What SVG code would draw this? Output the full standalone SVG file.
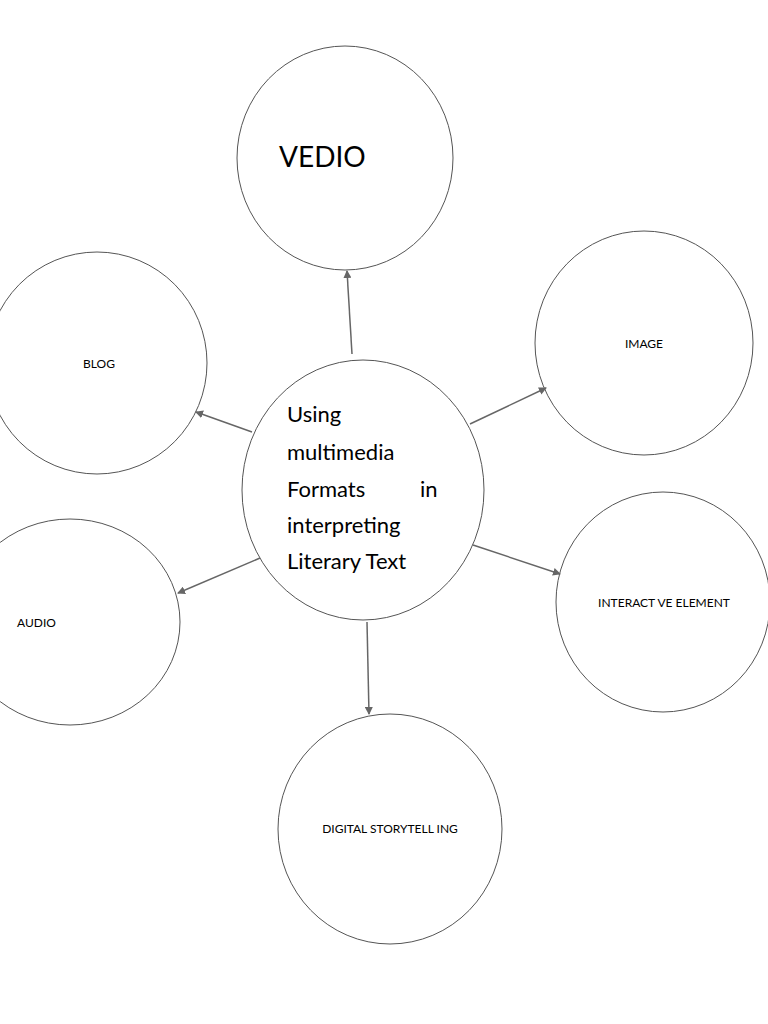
<svg xmlns="http://www.w3.org/2000/svg" width="768" height="1024" viewBox="0 0 768 1024">
<style>
.n{fill:#fff;stroke:#555;stroke-width:1}
.t{font-family:Lato,"Liberation Sans",sans-serif;fill:#000}
.s{font-size:12px}
.c{stroke:#666;stroke-width:1.5;fill:none;marker-end:url(#a)}
</style>
<defs><marker id="a" markerWidth="8" markerHeight="8" refX="7" refY="4" orient="auto" markerUnits="userSpaceOnUse"><path d="M0,0 L8,4 L0,8 Z" fill="#666"/></marker></defs>
<rect width="768" height="1024" fill="#fff"/>
<g id="vedio"><ellipse class="n" cx="345" cy="158" rx="108" ry="112"/><text class="t" x="279" y="167" font-size="28">VEDIO</text></g>
<g id="blog"><ellipse class="n" cx="97" cy="363" rx="110" ry="111"/><text class="t s" x="99" y="368" text-anchor="middle">BLOG</text></g>
<g id="image"><ellipse class="n" cx="644" cy="343" rx="109" ry="112"/><text class="t s" x="644" y="348" text-anchor="middle">IMAGE</text></g>
<g id="audio"><ellipse class="n" cx="70" cy="622" rx="110" ry="103"/><text class="t s" x="17" y="627">AUDIO</text></g>
<g id="interact"><ellipse class="n" cx="663" cy="602" rx="107" ry="110"/><text class="t s" x="664" y="607" text-anchor="middle">INTERACT VE ELEMENT</text></g>
<g id="digital"><ellipse class="n" cx="390" cy="829" rx="112" ry="115"/><text class="t s" x="390" y="833" text-anchor="middle">DIGITAL STORYTELL ING</text></g>
<g id="center"><ellipse class="n" cx="363" cy="490" rx="121" ry="130"/>
<g class="t" font-size="22"><text x="287" y="422">Using</text><text x="287" y="460">multimedia</text><text x="287" y="497">Formats</text><text x="420" y="497">in</text><text x="287" y="533">interpreting</text><text x="287" y="569">Literary Text</text></g></g>
<g id="connectors">
<path class="c" d="M352,354 L347,271"/>
<path class="c" d="M252,432 L196,412"/>
<path class="c" d="M470,424 L546,388"/>
<path class="c" d="M260,558 L178,593"/>
<path class="c" d="M473,545 L560,574"/>
<path class="c" d="M367,622 L369,714"/>
</g>
</svg>
